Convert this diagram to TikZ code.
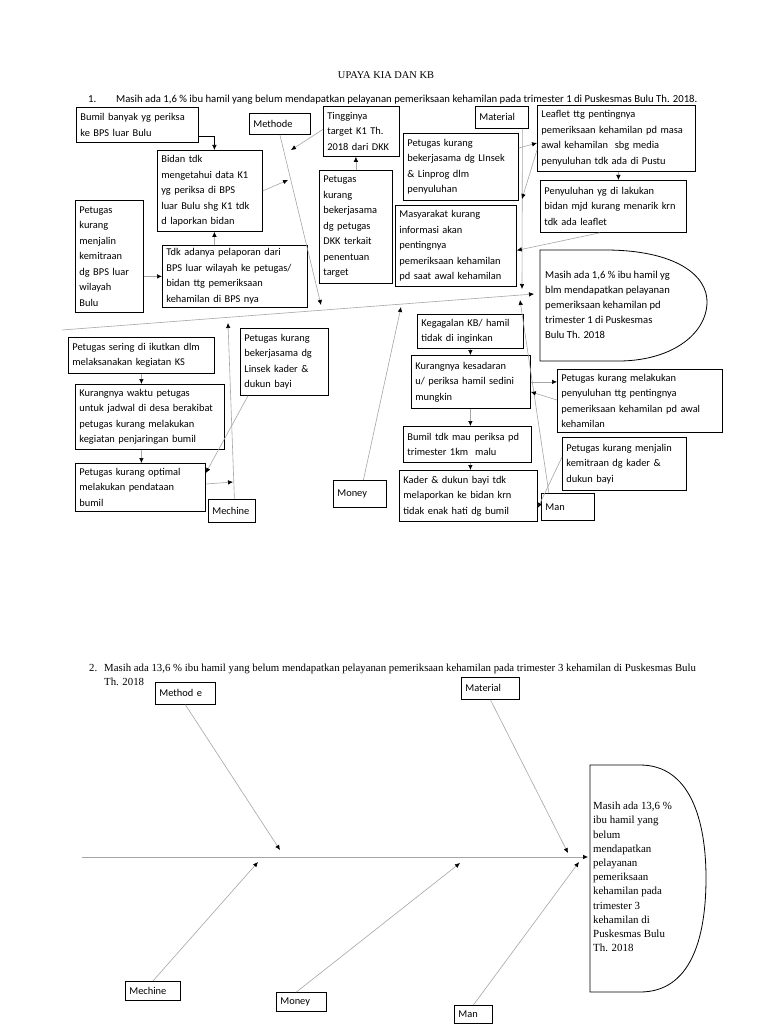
\documentclass[tikz,border=0pt]{standalone}
\usepackage{fontspec}
\setmainfont{Carlito}
\newfontfamily\tnr{Liberation Serif}
\usetikzlibrary{arrows.meta,calc}
\hyphenpenalty=10000
\exhyphenpenalty=10000
\begin{document}
\begin{tikzpicture}[x=1pt,y=-1pt,
  box/.style={draw=black, line width=0.8pt, anchor=north west, align=left, inner xsep=4pt, inner ysep=2pt, font=\fontsize{10.4}{15.5}\selectfont},
  conn/.style={draw=gray!70, line width=0.6pt, -{Latex[length=5pt,width=4.5pt,color=black]}},
  dshape/.style={draw=black, line width=0.8pt},
  hd/.style={anchor=base west, inner sep=0pt, font=\fontsize{10.7}{13}\selectfont},
  hdser/.style={inner sep=0pt, font=\tnr\fontsize{10.8}{14}\selectfont}]
\useasboundingbox[fill=white] (0,0) rectangle (768,1024);

% ---------- section 1 ----------
\node[hdser, font=\tnr\fontsize{10.4}{12}\selectfont] (title) at (386,75) {UPAYA KIA DAN KB};
\node[hd] (h1n) at (88,103) {1.};
\node[hd] (h1) at (116,103) {Masih ada 1,6 \% ibu hamil yang belum mendapatkan pelayanan pemeriksaan kehamilan pada trimester 1 di Puskesmas Bulu Th. 2018.};

\node[box, text width=114, minimum height=35] (bumil) at (76,107) {Bumil banyak yg periksa\\ke BPS luar Bulu};
\node[box, text width=53, minimum height=21] (methode) at (249,113) {Methode};
\node[box, text width=68, minimum height=50] (tingginya) at (323,106) {Tingginya\\target K1 Th.\\2018 dari DKK};
\node[box, text width=45, minimum height=22] (material) at (475,106) {Material};
\node[box, text width=150, minimum height=66] (leaflet) at (537,105) {Leaflet ttg pentingnya\\pemeriksaan kehamilan pd masa\\awal kehamilan\ \ sbg media\\penyuluhan tdk ada di Pustu};
\node[box, text width=107, minimum height=67] (linsek) at (403,133) {Petugas kurang\\bekerjasama dg LInsek\\\& Linprog dlm\\penyuluhan};
\node[box, text width=138, minimum height=52] (penyuluhan) at (540,180) {Penyuluhan yg di lakukan\\bidan mjd kurang menarik krn\\tdk ada leaflet};
\node[box, text width=113, minimum height=81] (masyarakat) at (395,205) {Masyarakat kurang\\informasi akan\\pentingnya\\pemeriksaan kehamilan\\pd saat awal kehamilan};
\node[box, text width=97, minimum height=81] (bidan) at (157,150) {Bidan tdk\\mengetahui data K1\\yg periksa di BPS\\luar Bulu shg K1 tdk\\d laporkan bidan};
\node[box, text width=60, minimum height=112] (pkemitraan) at (75,200) {Petugas\\kurang\\menjalin\\kemitraan\\dg BPS luar\\wilayah\\Bulu};
\node[box, text width=137, minimum height=62] (tdk) at (162,245) {Tdk adanya pelaporan dari\\BPS luar wilayah ke petugas/\\bidan ttg pemeriksaan\\kehamilan di BPS nya};
\node[box, text width=65, minimum height=113] (dkk) at (319,170) {Petugas\\kurang\\bekerjasama\\dg petugas\\DKK terkait\\penentuan\\target};

\node[box, text width=138, minimum height=36] (sering) at (68,337) {Petugas sering di ikutkan dlm\\melaksanakan kegiatan KS};
\node[box, text width=141, minimum height=65] (kwaktu) at (75,384) {Kurangnya waktu petugas\\untuk jadwal di desa berakibat\\petugas kurang melakukan\\kegiatan penjaringan bumil};
\node[box, text width=122, minimum height=48] (optimal) at (75,463) {Petugas kurang optimal\\melakukan pendataan\\bumil};
\node[box, text width=80, minimum height=67] (plkader) at (240,328) {Petugas kurang\\bekerjasama dg\\Linsek kader \&\\dukun bayi};
\node[box, text width=39, minimum height=23] (mechine) at (208,499) {Mechine};

\node[box, text width=98, minimum height=34] (kegagalan) at (417,314) {Kegagalan KB/ hamil\\tidak di inginkan};
\node[box, text width=111, minimum height=53] (kkesadaran) at (411,355) {Kurangnya kesadaran\\u/ periksa hamil sedini\\mungkin};
\node[box, text width=120, minimum height=36] (bumiltdk) at (403,426) {Bumil tdk mau periksa pd\\trimester 1km\ \ malu};
\node[box, text width=130, minimum height=51] (kader) at (399,470) {Kader \& dukun bayi tdk\\melaporkan ke bidan krn\\tidak enak hati dg bumil};
\node[box, text width=157, minimum height=63] (ppenyuluhan) at (557,369) {Petugas kurang melakukan\\penyuluhan ttg pentingnya\\pemeriksaan kehamilan pd awal\\kehamilan};
\node[box, text width=116, minimum height=53] (pkemkader) at (562,437) {Petugas kurang menjalin\\kemitraan dg kader \&\\dukun bayi};
\node[box, text width=45, minimum height=27] (money) at (333,480) {Money};
\node[box, text width=45, minimum height=27] (man) at (541,493) {Man};

% result shape 1
\draw[dshape] (540,250) -- (605,250) .. controls (675,250) and (708,275) .. (707,303) .. controls (706,335) and (670,362) .. (615,361) -- (540,361) -- cycle;
\node[anchor=north west, align=left, inner sep=0pt, font=\fontsize{10.6}{15}\selectfont] (res1) at (545,271) {Masih ada 1,6 \% ibu hamil yg\\blm mendapatkan pelayanan\\pemeriksaan kehamilan pd\\trimester 1 di Puskesmas\\Bulu Th. 2018};

% spine and bones, section 1
\coordinate (spL) at (62,330);
\coordinate (spR) at (534,294);
\coordinate (mEnd) at (321,305);
\coordinate (mA) at (288,180);
\coordinate (mB) at (291,150);
\coordinate (matEnd) at (522,289);
\coordinate (matA) at (522,199);
\coordinate (manEnd) at (520,300);
\coordinate (monEnd) at (401,307);
\coordinate (mecEnd) at (228,323);
\coordinate (mecA) at (233,482);

\draw[conn] (spL) -- (spR);
\draw[conn] (methode.south) -- (mEnd);
\draw[conn] (bidan.east) -- (mA);
\draw[conn] ([yshift=2pt]tingginya.west) -- (mB);
\draw[conn] (dkk.north) -- (dkk.north |- tingginya.south);
\draw[line width=0.6pt, -{Latex[length=5pt,width=4.5pt]}] ([yshift=-11pt]bumil.east) -| ([xshift=4.5pt]bidan.north);
\draw[conn] ([xshift=-20.5pt]tdk.north) -- ([xshift=4.5pt]bidan.south);
\draw[conn] (pkemitraan.east |- tdk.west) -- (tdk.west);

\draw[conn] ([xshift=20.5pt]material.south) -- (matEnd);
\draw[conn] ([yshift=-15pt]linsek.north east) -- ([yshift=-38pt]leaflet.north west);
\draw[conn] ([yshift=-45pt]leaflet.north west) -- (matA);
\draw[conn] ([xshift=2pt]leaflet.south) -- ([xshift=2pt]leaflet.south |- penyuluhan.north);
\draw[conn] ([xshift=60pt]penyuluhan.south west) -- ([yshift=-4.5pt]masyarakat.east);

\draw[conn] ([xshift=-19pt]man.north) -- (manEnd);
\draw[conn] ([xshift=3.5pt]money.north) -- (monEnd);
\draw[conn] ([xshift=2.5pt]mechine.north) -- (mecEnd);

\draw[conn] (sering.south) -- (sering.south |- kwaktu.north);
\draw[conn] (sering.south |- kwaktu.south) -- (sering.south |- optimal.north);
\draw[conn] ([xshift=8pt]plkader.south west) -- ([yshift=-10pt]optimal.north east);
\draw[conn] ([yshift=-21pt]optimal.north east) -- (mecA);

\draw[conn] (kegagalan.south) -- (kegagalan.south |- kkesadaran.north);
\draw[conn] (kegagalan.south |- kkesadaran.south) -- (kegagalan.south |- bumiltdk.north);
\draw[conn] (kegagalan.south |- bumiltdk.south) -- (kegagalan.south |- kader.north);
\draw[conn] (kkesadaran.east) -- (kkesadaran.east -| ppenyuluhan.west);
\draw[conn] ([yshift=-31pt]ppenyuluhan.north west) -- ([yshift=-10pt]kkesadaran.east);
\draw[conn] ([yshift=-20pt]pkemkader.north west) -- ([yshift=-12pt]kader.east);

% ---------- section 2 ----------
\node[hdser, anchor=north west] (h2n) at (89,664) {2.};
\node[hdser, anchor=north west, align=left] (h2) at (104,664) {Masih ada 13,6 \% ibu hamil yang belum mendapatkan pelayanan pemeriksaan kehamilan pada trimester 3 kehamilan di Puskesmas Bulu\\Th. 2018};

\node[box, text width=52, minimum height=22] (methode2) at (155,682) {Method e};
\node[box, text width=50, minimum height=22] (material2) at (461,677) {Material};
\node[box, text width=47, minimum height=19] (mechine2) at (125,981) {Mechine};
\node[box, text width=42, minimum height=19] (money2) at (276,992) {Money};
\node[box, text width=30, minimum height=18, inner ysep=1pt] (man2) at (454,1005) {Man};

\draw[dshape] (590,765) -- (640,765) .. controls (690,765) and (706,820) .. (706,878) .. controls (706,940) and (690,992) .. (640,992) -- (590,992) -- cycle;
\node[anchor=north west, align=left, inner sep=0pt, font=\tnr\fontsize{10.9}{14.2}\selectfont] (res2) at (593,802) {Masih ada 13,6 \%\\ibu hamil yang\\belum\\mendapatkan\\pelayanan\\pemeriksaan\\kehamilan pada\\trimester 3\\kehamilan di\\Puskesmas Bulu\\Th. 2018};

\coordinate (sp2L) at (82,857);
\coordinate (sp2R) at (588,857);
\coordinate (m2End) at (280,850);
\coordinate (mat2End) at (568,853);
\coordinate (mec2End) at (258,862);
\coordinate (mon2End) at (460,863);
\coordinate (man2End) at (579,862);
\draw[conn] (sp2L) -- (sp2R);
\draw[conn] (methode2.south) -- (m2End);
\draw[conn] (material2.south) -- (mat2End);
\draw[conn] (mechine2.north) -- (mec2End);
\draw[conn] ([xshift=-5pt]money2.north) -- (mon2End);
\draw[conn] (man2.north) -- (man2End);
\end{tikzpicture}
\end{document}
